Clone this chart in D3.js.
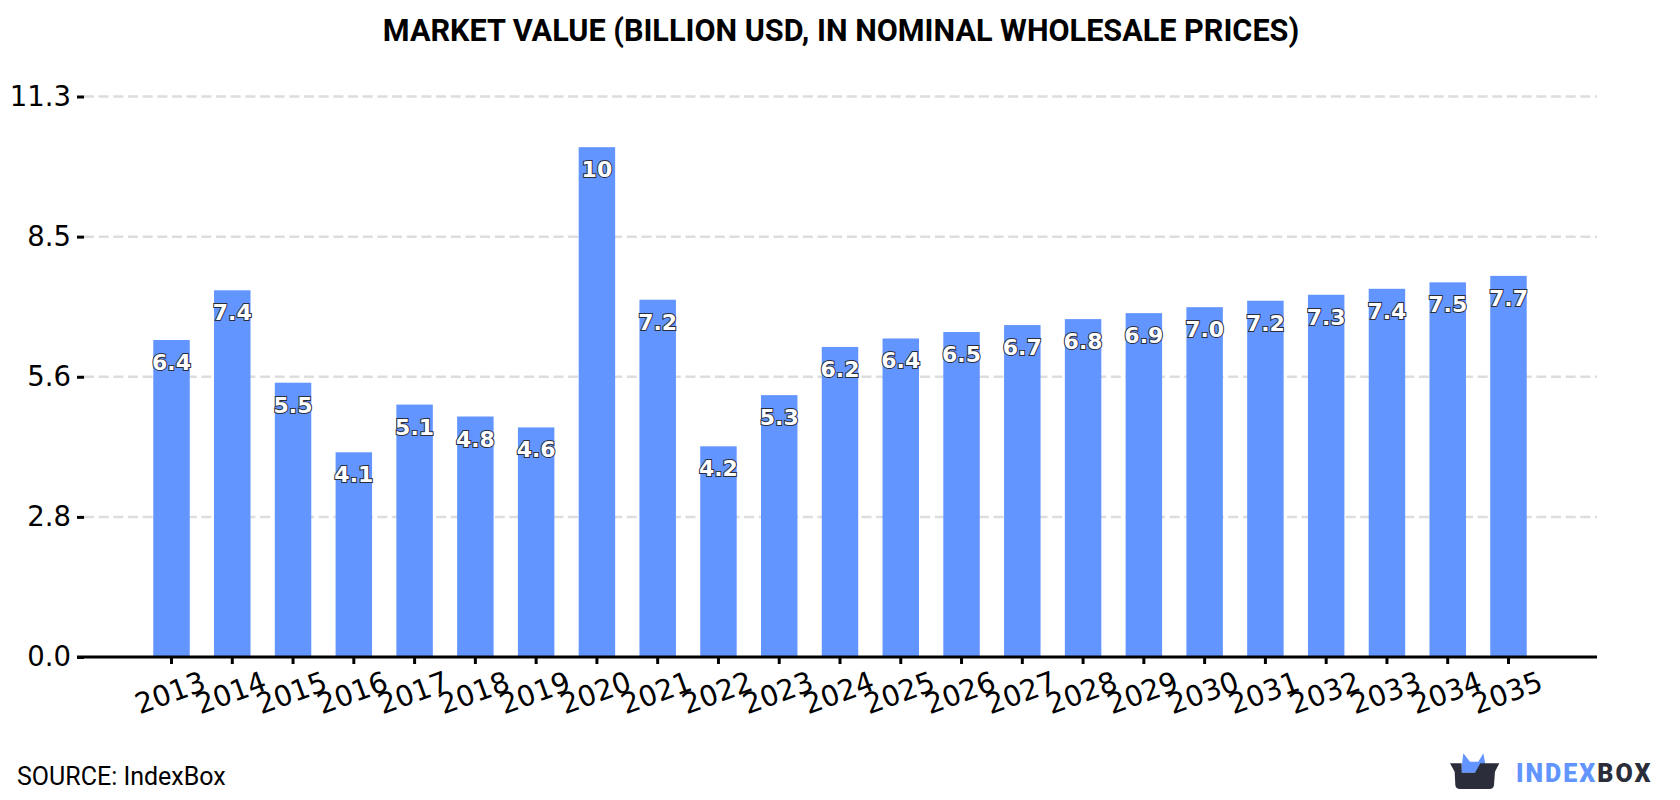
<!DOCTYPE html>
<html>
<head>
<meta charset="utf-8">
<style>
  html, body { margin: 0; padding: 0; background: #fff; }
  svg { display: block; }
</style>
<script src="https://cdn.jsdelivr.net/npm/d3@7/dist/d3.min.js"></script>
</head>
<body>
<svg id="chart" width="1680" height="800"></svg>
<script>
// Market value by year, billion USD
const years = [2013,2014,2015,2016,2017,2018,2019,2020,2021,2022,2023,2024,
               2025,2026,2027,2028,2029,2030,2031,2032,2033,2034,2035];
const values = [6.38,7.38,5.52,4.12,5.08,4.84,4.62,10.26,7.19,4.24,5.27,6.24,
                6.41,6.54,6.68,6.8,6.92,7.04,7.17,7.29,7.41,7.54,7.67];
const yTicks = [0, 2.82, 5.64, 8.46, 11.28];

const titleText = "MARKET VALUE (BILLION USD, IN NOMINAL WHOLESALE PRICES)";
const sourceText = "SOURCE: IndexBox";

const blue = "#6295ff";
const dark = "#2b2d3a";
const plot = { left: 84, right: 1597, top: 96.5, bottom: 657 };

const svg = d3.select("#chart");

const x = d3.scaleBand()
  .domain(years)
  .range([plot.left, plot.right - 1])
  .paddingInner(0.4)
  .paddingOuter(1.14);

const y = d3.scaleLinear()
  .domain([0, 11.28])
  .range([plot.bottom, plot.top]);

// Two significant digits: 7.0, 7.2, 10
const labelFormat = d3.format(".2r");

svg.append("text")
  .attr("x", 841).attr("y", 41)
  .attr("text-anchor", "middle")
  .style("font", "700 30.6px Roboto")
  .style("fill", "#000")
  .text(titleText);

// Horizontal grid
svg.append("g").selectAll("line")
  .data(yTicks.filter(d => d > 0))
  .join("line")
  .attr("x1", plot.left).attr("x2", plot.right)
  .attr("y1", d => y(d)).attr("y2", d => y(d))
  .attr("stroke", "#dddddd")
  .attr("stroke-width", 2.5)
  .attr("stroke-dasharray", "10,4.67");

// Bars
svg.append("g").selectAll("rect")
  .data(values)
  .join("rect")
  .attr("x", (d, i) => x(years[i]))
  .attr("width", x.bandwidth())
  .attr("y", d => y(d))
  .attr("height", d => y(0) - y(d))
  .attr("fill", blue);

// Y axis
const yAxis = svg.append("g")
  .attr("transform", `translate(${plot.left},0)`)
  .call(d3.axisLeft(y).tickValues(yTicks).tickFormat(d3.format(".1f")).tickSize(7).tickPadding(6));
yAxis.select(".domain").remove();
yAxis.selectAll("line").attr("stroke", "#000").attr("stroke-width", 3);
yAxis.selectAll("text")
  .style("font", "27.5px 'DejaVu Sans'")
  .style("fill", "#000");

// X axis
const xAxis = svg.append("g")
  .attr("transform", `translate(0,${plot.bottom})`)
  .call(d3.axisBottom(x).tickSize(7).tickSizeOuter(0));
xAxis.select(".domain")
  .attr("stroke", "#000").attr("stroke-width", 3)
  .attr("d", `M${plot.left - 7},0H${plot.right}`);
xAxis.selectAll("line").attr("stroke", "#000").attr("stroke-width", 3);
xAxis.selectAll("text")
  .style("font", "28.5px 'DejaVu Sans'")
  .style("fill", "#000")
  .attr("text-anchor", "middle")
  .attr("dy", 0)
  .attr("y", 0)
  .attr("transform", "translate(2,45) rotate(-20)");

// Value labels
svg.append("g").selectAll("text")
  .data(values)
  .join("text")
  .attr("x", (d, i) => x(years[i]) + x.bandwidth() / 2)
  .attr("y", d => y(d) + 30)
  .attr("text-anchor", "middle")
  .style("font", "700 22px 'DejaVu Sans'")
  .style("fill", "#fff")
  .style("stroke", "#2b2d3a")
  .style("stroke-width", 2)
  .style("paint-order", "stroke")
  .text(d => labelFormat(d));

svg.append("text")
  .attr("x", 17).attr("y", 785)
  .style("font", "25px Roboto")
  .style("fill", "#000")
  .text(sourceText);

// Brand mark
const logo = svg.append("g").attr("transform", "translate(1400,730) scale(0.3333)");
logo.append("path")
  .attr("fill", blue)
  .attr("d", "M183,128 L190,70 L210,95 L235,95 L250,70 L261,128 Z");
logo.append("path")
  .attr("fill", dark)
  .attr("d", "M150,100 H185 V128 H225 L241,100 H298 L285,125 L282,165 Q281,177 268,177 H180 Q167,177 166,165 L164,125 Z");

const brand = svg.append("text")
  .attr("x", 1516).attr("y", 782)
  .style("font", "900 25px Roboto")
  .style("letter-spacing", "2px");
brand.append("tspan").attr("fill", blue).text("INDEX");
brand.append("tspan").attr("fill", dark).text("BOX");
</script>
</body>
</html>
